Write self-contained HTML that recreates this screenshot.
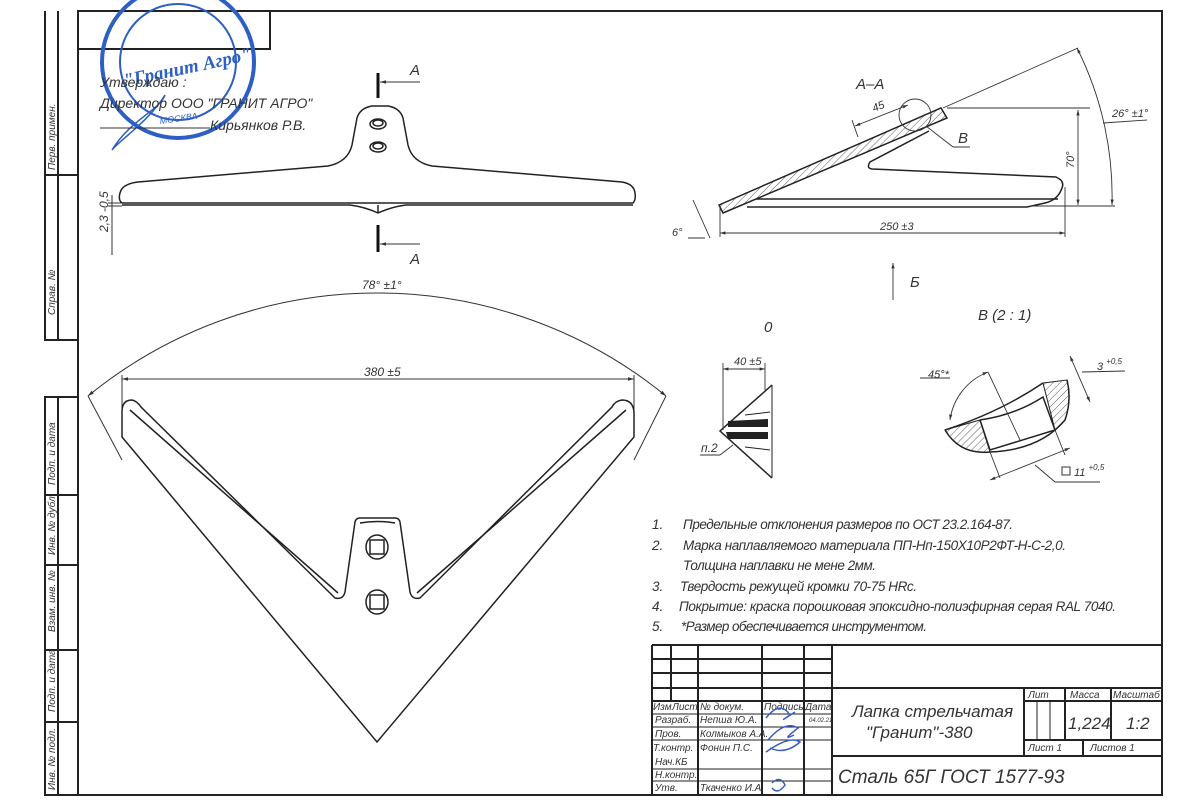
<!DOCTYPE html>
<html><head><meta charset="utf-8"><style>
html,body{margin:0;padding:0;background:#fff;}
svg{display:block;}
text{font-family:"Liberation Sans","DejaVu Sans",sans-serif;font-style:italic;fill:#333;}
</style></head><body>
<svg width="1200" height="800" viewBox="0 0 1200 800" xmlns="http://www.w3.org/2000/svg">
<defs>
<pattern id="h" width="5" height="5" patternUnits="userSpaceOnUse" patternTransform="rotate(45)">
<line x1="0" y1="0" x2="0" y2="5" stroke="#333" stroke-width="0.8"/></pattern>
<marker id="ar" viewBox="0 0 10 10" refX="10" refY="5" markerWidth="8" markerHeight="6" orient="auto-start-reverse"><path d="M0,2 L10,5 L0,8 z" fill="#333"/></marker>
</defs>
<rect width="1200" height="800" fill="#fff"/>
<!-- frame -->
<g stroke="#222" fill="none" stroke-width="2">
<path d="M78,11 H1162 V795 H78 Z"/>
<path d="M78,11 V49 H270 V11"/>
<path d="M45,11 V340 H78 M58,11 V340 M45,175 H78"/>
<path d="M45,397 H78 V795 H45 Z M58,397 V795 M45,495 H78 M45,565 H78 M45,650 H78 M45,722 H78"/>
</g>
<g font-size="10">
<text transform="translate(55,170) rotate(-90)">Перв. примен.</text>
<text transform="translate(55,315) rotate(-90)">Справ. №</text>
<text transform="translate(55,485) rotate(-90)">Подп. и дата</text>
<text transform="translate(55,555) rotate(-90)">Инв. № дубл.</text>
<text transform="translate(55,632) rotate(-90)">Взам. инв. №</text>
<text transform="translate(55,712) rotate(-90)">Подп. и дата</text>
<text transform="translate(55,790) rotate(-90)">Инв. № подл.</text>
</g>

<!-- stamp -->
<g stroke="#2d5fc4" fill="none">
<circle cx="178" cy="62" r="76" stroke-width="4"/>
<circle cx="178" cy="62" r="58" stroke-width="2"/>
</g>
<text x="122" y="76" transform="rotate(-12 175 68)" font-size="19" font-weight="bold" font-style="normal" style="fill:#2d5fc4;font-family:'Liberation Serif',serif">"Гранит Агро"</text>
<text x="160" y="122" font-size="9" style="fill:#2d5fc4" transform="rotate(-8 175 122)">МОСКВА</text>
<path d="M112,150 C130,120 160,110 165,95 C150,120 120,140 112,150" stroke="#2d5fc4" fill="none" stroke-width="1.5"/>
<text x="100" y="87" font-size="14">Утверждаю :</text>
<text x="100" y="108" font-size="14">Директор ООО "ГРАНИТ АГРО"</text>
<text x="210" y="130" font-size="14">Кирьянков Р.В.</text>
<line x1="100" y1="128" x2="210" y2="128" stroke="#333"/>

<!-- top view plate -->
<g stroke="#222" fill="none" stroke-width="1.5">
<path d="M122,203 L633,203 Q636,200 635,193 Q634,184 622,182 L432,166 Q412,162 408,145 L403,118 Q400,108 388,106 L372,106 Q360,108 357,118 L352,145 Q348,162 328,166 L138,182 Q122,184 120,193 Q118,200 122,203 Z"/>
<path d="M122,205 H350 Q365,207 378,213 Q391,207 406,205 H633"/>
<line x1="378" y1="205" x2="378" y2="213"/>
<ellipse cx="378" cy="124" rx="8" ry="5"/><ellipse cx="378" cy="123" rx="5" ry="3"/>
<ellipse cx="378" cy="147" rx="8" ry="5"/><ellipse cx="378" cy="146" rx="5" ry="3"/>
</g>
<g stroke="#111" stroke-width="3"><line x1="378" y1="73" x2="378" y2="98"/><line x1="378" y1="225" x2="378" y2="252"/></g>
<g stroke="#333" stroke-width="1"><line x1="380" y1="82" x2="420" y2="82" marker-start="url(#ar)"/><line x1="380" y1="244" x2="420" y2="244" marker-start="url(#ar)"/>
<line x1="112" y1="195" x2="112" y2="255"/><line x1="108" y1="203" x2="122" y2="203"/><line x1="108" y1="206" x2="122" y2="206"/></g>
<text x="410" y="75" font-size="15">A</text>
<text x="410" y="264" font-size="15">A</text>
<text transform="translate(108,232) rotate(-90)" font-size="12">2,3 -0,5</text>

<!-- bottom view -->
<g stroke="#333" fill="none" stroke-width="1">
<path d="M88,396 A457,457 0 0 1 666,396" marker-start="url(#ar)" marker-end="url(#ar)"/>
<line x1="88" y1="396" x2="122" y2="460"/><line x1="666" y1="396" x2="634" y2="460"/>
<line x1="122" y1="379" x2="634" y2="379" marker-start="url(#ar)" marker-end="url(#ar)"/>
<line x1="122" y1="375" x2="122" y2="410"/><line x1="634" y1="375" x2="634" y2="410"/>
</g>
<text x="362" y="289" font-size="12">78° ±1°</text>
<text x="364" y="376" font-size="12">380 ±5</text>
<g stroke="#222" fill="none" stroke-width="1.5">
<path d="M122,437 L377,742 L634,437 L634,412 Q633,400 622,400 Q615,401 612,407 L420,598 Q412,600 410,592 L400,522 Q399,518 395,518 L360,518 Q356,518 355,522 L345,592 Q343,600 335,598 L141,407 Q137,401 132,400 Q122,400 122,412 Z"/>
<path d="M130,410 L338,593 M626,410 L417,593"/>
<path d="M360,523 Q378,520 395,523"/>
<ellipse cx="377" cy="547" rx="11" ry="12"/><rect x="370" y="540" width="14" height="14"/>
<ellipse cx="377" cy="602" rx="11" ry="12"/><rect x="370" y="595" width="14" height="14"/>
</g>

<!-- section A-A -->
<text x="856" y="89" font-size="15">A–A</text>
<g stroke="#222" stroke-width="1.5">
<path d="M719,205 L941,108 L947,118 L723,213 Z" fill="url(#h)"/>
<path d="M929,131 L870,162 Q866,168 872,169 L1056,177 Q1065,181 1062,188 Q1058,200 1045,203 L1027,207 L747,207" fill="none"/>
<path d="M756,199 L1058,199" fill="none"/>
</g>
<g stroke="#333" fill="none" stroke-width="0.9">
<circle cx="915" cy="115" r="16"/>
<line x1="926" y1="126" x2="953" y2="147"/><line x1="953" y1="147" x2="970" y2="147"/>
<line x1="943" y1="108" x2="1078" y2="48"/>
<line x1="947" y1="108" x2="1090" y2="108"/><line x1="1030" y1="206" x2="1115" y2="206"/>
<line x1="1078" y1="110" x2="1078" y2="205" marker-start="url(#ar)" marker-end="url(#ar)"/>
<path d="M1077,48 A330,330 0 0 1 1112,205" marker-start="url(#ar)" marker-end="url(#ar)"/>
<line x1="1103" y1="123" x2="1147" y2="120"/>
<line x1="855" y1="126" x2="908" y2="105" marker-start="url(#ar)" marker-end="url(#ar)"/>
<line x1="852" y1="120" x2="858" y2="137"/>
<line x1="720" y1="233" x2="1065" y2="233" marker-start="url(#ar)" marker-end="url(#ar)"/>
<line x1="720" y1="207" x2="720" y2="237"/><line x1="1065" y1="187" x2="1065" y2="237"/>
<line x1="693" y1="200" x2="710" y2="238"/><line x1="688" y1="238" x2="705" y2="238"/>
<line x1="893" y1="300" x2="893" y2="263" marker-end="url(#ar)"/>
</g>
<text x="958" y="143" font-size="15">B</text>
<text x="1112" y="117" font-size="11">26° ±1°</text>
<text transform="translate(1074,168) rotate(-90)" font-size="11">70°</text>
<text transform="translate(874,112) rotate(-22)" font-size="11">45</text>
<text x="880" y="230" font-size="11">250 ±3</text>
<text x="672" y="236" font-size="11">6°</text>
<text x="910" y="287" font-size="15">Б</text>

<!-- view 0 -->
<text x="764" y="332" font-size="15">0</text>
<g stroke="#222" fill="none" stroke-width="1.5">
<path d="M772,385 L720,431 L772,478"/>
<line x1="772" y1="385" x2="772" y2="478" stroke-width="1"/>
<path d="M745,415 L770,412 M745,447 L770,450" stroke-width="1"/>
</g>
<g fill="#222"><path d="M728,421 L768,419 L768,427 L728,427 Z"/><path d="M726,432 L768,432 L768,439 L728,439 Z"/></g>
<g stroke="#333" stroke-width="0.9" fill="none">
<line x1="723" y1="369" x2="765" y2="369" marker-start="url(#ar)" marker-end="url(#ar)"/>
<line x1="723" y1="363" x2="723" y2="430"/><line x1="765" y1="363" x2="765" y2="390"/>
<line x1="700" y1="455" x2="720" y2="455"/><line x1="720" y1="455" x2="733" y2="445"/>
</g>
<text x="734" y="365" font-size="11">40 ±5</text>
<text x="701" y="452" font-size="12">п.2</text>

<!-- detail B -->
<text x="978" y="320" font-size="15">B (2 : 1)</text>
<g stroke="#222" fill="none" stroke-width="1.5">
<path d="M945,430 Q1000,412 1043,383"/>
<path d="M980,420 L990,450 L1055,430 L1043,397 Q1015,415 980,420"/>
<path d="M945,430 Q960,455 990,452 Q1040,450 1065,420 Q1072,400 1067,380"/>
</g>
<path d="M945,430 L980,420 L990,452 Q960,455 945,430 Z" fill="url(#h)" stroke="#222"/>
<path d="M1043,383 L1067,380 Q1072,400 1065,420 L1055,430 Z" fill="url(#h)" stroke="#222"/>
<g stroke="#333" stroke-width="0.9" fill="none">
<path d="M950,420 A60,60 0 0 1 988,372" marker-start="url(#ar)" marker-end="url(#ar)"/>
<line x1="988" y1="372" x2="1020" y2="440"/>
<line x1="920" y1="378" x2="950" y2="378"/>
<line x1="1070" y1="356" x2="1090" y2="402" marker-start="url(#ar)" marker-end="url(#ar)"/>
<line x1="1082" y1="372" x2="1125" y2="371"/>
<line x1="990" y1="480" x2="1070" y2="448" marker-start="url(#ar)" marker-end="url(#ar)"/>
<line x1="990" y1="452" x2="1000" y2="478"/><line x1="1055" y1="430" x2="1065" y2="455"/>
<line x1="1035" y1="465" x2="1055" y2="482"/><line x1="1055" y1="482" x2="1100" y2="482"/>
</g>
<text x="928" y="378" font-size="11">45°*</text>
<text x="1097" y="370" font-size="11">3 <tspan font-size="8" dy="-6">+0,5</tspan></text>
<rect x="1062" y="467" width="8" height="8" fill="none" stroke="#333"/>
<text x="1074" y="476" font-size="11">11 <tspan font-size="8" dy="-6">+0,5</tspan></text>

<!-- notes -->
<g font-size="13.5">
<text x="652" y="529">1.</text><text x="683" y="529" textLength="330">Предельные отклонения размеров по ОСТ 23.2.164-87.</text>
<text x="652" y="550">2.</text><text x="683" y="550" textLength="383">Марка наплавляемого материала ПП-Нп-150Х10Р2ФТ-Н-С-2,0.</text>
<text x="683" y="570" textLength="193">Толщина наплавки не мене 2мм.</text>
<text x="652" y="591">3.</text><text x="680" y="591" textLength="237">Твердость режущей кромки 70-75 HRc.</text>
<text x="652" y="611">4.</text><text x="679" y="611" textLength="437">Покрытие: краска порошковая эпоксидно-полиэфирная серая RAL 7040.</text>
<text x="652" y="631">5.</text><text x="681" y="631" textLength="246">*Размер обеспечивается инструментом.</text>
</g>

<!-- title block -->
<g stroke="#222" fill="none" stroke-width="2">
<path d="M652,645 H1162 M652,645 V795"/>
<path d="M671,645 V701 M698,645 V795 M762,645 V795 M804,645 V795 M832,645 V795"/>
<path d="M652,659 H832 M652,673 H832 M652,688 H1162 M652,701 H832 M1024,701 H1162 M832,756 H1162 M1024,740 H1162"/>
<path d="M1024,688 V756 M1065,688 V740 M1111,688 V740 M1083,740 V756"/>
</g>
<g stroke="#222" fill="none" stroke-width="1">
<path d="M652,714 H832 M652,727 H832 M652,740 H832 M652,769 H832 M652,781 H832 M1037,701 V740 M1050,701 V740"/>
</g>
<g font-size="10">
<text x="653" y="710">Изм</text><text x="672" y="710">Лист</text><text x="700" y="710">№ докум.</text><text x="764" y="710">Подпись</text><text x="805" y="710">Дата</text>
<text x="655" y="723">Разраб.</text><text x="700" y="723">Непша Ю.А.</text><text x="809" y="722" font-size="6">04.02.21</text>
<text x="655" y="737">Пров.</text><text x="700" y="737">Колмыков А.А.</text>
<text x="653" y="751">Т.контр.</text><text x="700" y="751">Фонин П.С.</text>
<text x="655" y="765">Нач.КБ</text>
<text x="655" y="778">Н.контр.</text>
<text x="655" y="791">Утв.</text><text x="700" y="791">Ткаченко И.А.</text>
<text x="1028" y="698">Лит</text><text x="1070" y="698">Масса</text><text x="1113" y="698">Масштаб</text>
<text x="1028" y="751">Лист 1</text><text x="1090" y="751">Листов 1</text>
</g>
<g stroke="#3a5fc0" fill="none" stroke-width="1.5">
<path d="M766,718 Q780,700 790,715 Q775,725 795,712 M768,740 Q785,720 798,728 Q780,742 794,735 M766,752 Q790,735 800,742 Q785,755 770,748 M772,783 Q780,775 785,785 Q778,795 772,788"/>
</g>
<text x="852" y="717" font-size="17">Лапка стрельчатая</text>
<text x="866" y="738" font-size="17">"Гранит"-380</text>
<text x="838" y="783" font-size="19">Сталь 65Г ГОСТ 1577-93</text>
<text x="1068" y="729" font-size="17">1,224</text>
<text x="1126" y="729" font-size="17">1:2</text>
</svg>
</body></html>
